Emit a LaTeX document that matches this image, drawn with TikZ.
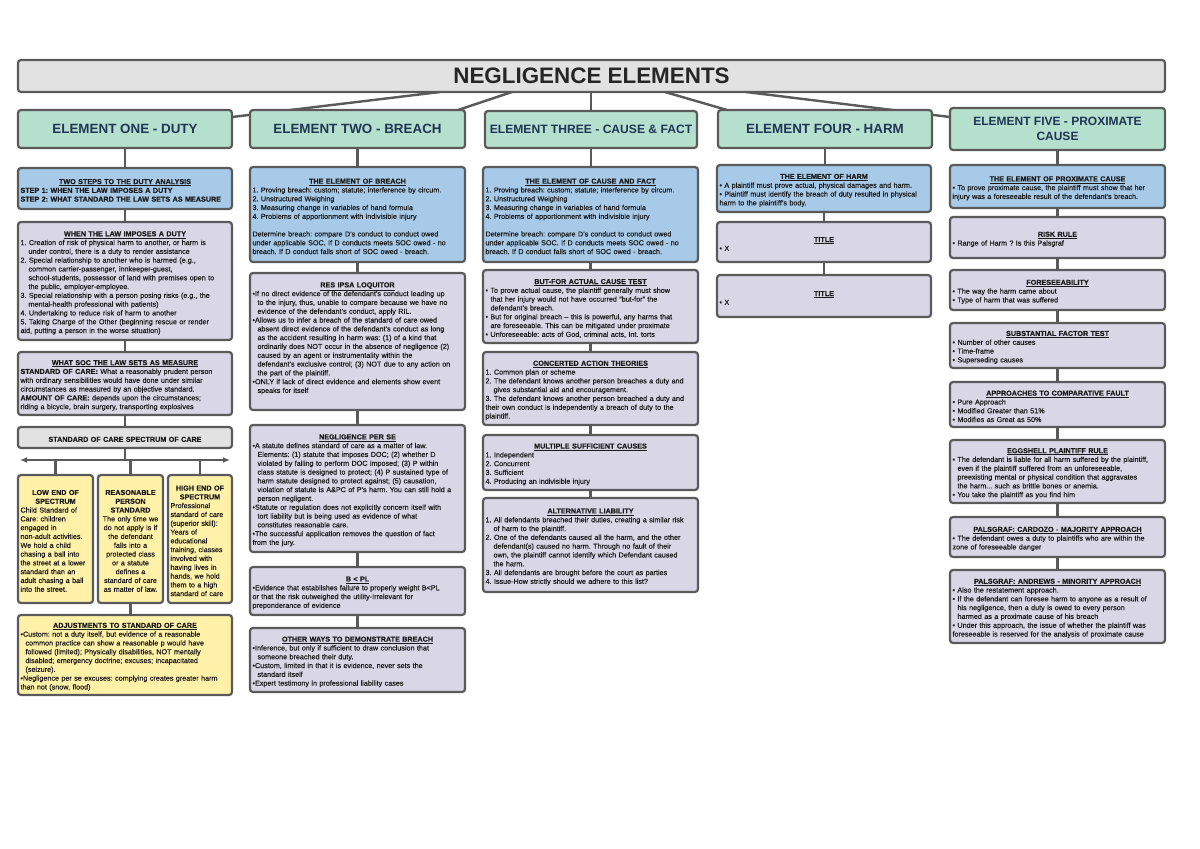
\documentclass[tikz,border=0pt]{standalone}
\usepackage{fontspec}
\setmainfont{Liberation Sans}
\newfontfamily\bodyf{Liberation Sans}[FakeBold=0.3]
\usetikzlibrary{backgrounds,calc,arrows.meta}
\definecolor{bord}{HTML}{5A5A5A}
\definecolor{bluef}{HTML}{A6CAE8}
\definecolor{lavf}{HTML}{D9D6E6}
\definecolor{greenf}{HTML}{B6E0CE}
\definecolor{yellf}{HTML}{FFF1A8}
\definecolor{grayf}{HTML}{E2E2E2}
\definecolor{hdrtxt}{HTML}{1F3555}
\definecolor{txt}{HTML}{1A1A1A}
\newcommand\bxfont{\bodyf\fontsize{7.2}{8.8}\selectfont\frenchspacing}
\newcommand\hd[1]{\par\centerline{\textbf{\underline{#1}}}}
\newcommand\ctr[1]{\par\centerline{\textbf{#1}}}
\newcommand\nitem{\par\noindent\hangindent=8pt\hangafter=1\relax\ignorespaces}
\newcommand\bitem{\par\noindent\hangindent=5pt\hangafter=1\relax\ignorespaces}
\newcommand\pp{\par\noindent\ignorespaces}
\tikzset{
  bx/.style={draw=bord, line width=2.2pt, rounded corners=3pt, inner xsep=2.5pt, inner ysep=2pt,
     align=left, font=\bxfont, text=txt, outer sep=0pt, anchor=north west},
  hdr/.style={draw=bord, line width=2.2pt, rounded corners=3pt, fill=greenf, align=center,
     text=hdrtxt, outer sep=0pt, anchor=north west, inner sep=1pt},
  conn/.style={draw=bord, line width=2.4pt},
}
\newcommand\bx[7]{\pgfmathsetmacro\tw{#5-5}\node[bx,fill=#2,minimum width=#5pt,minimum height=#6pt,text width=\tw pt] (#1) at (#3,#4) {#7};}
\begin{document}
\begin{tikzpicture}[x=1pt,y=-1pt]
\useasboundingbox (0,0) rectangle (1200,849);
% title
\node[hdr, fill=grayf, text=black!85, minimum width=1147pt, minimum height=32pt,
  font=\bfseries\fontsize{22.4}{24}\selectfont] (T) at (18,60) {NEGLIGENCE ELEMENTS};
% headers
\node[hdr, minimum width=214pt, minimum height=38pt, font=\bfseries\fontsize{13.4}{15}\selectfont] (E1) at (18,110) {ELEMENT ONE - DUTY};
\node[hdr, minimum width=215pt, minimum height=38pt, font=\bfseries\fontsize{13.4}{15}\selectfont] (E2) at (250,110) {ELEMENT TWO - BREACH};
\node[hdr, minimum width=212pt, minimum height=37pt, font=\bfseries\fontsize{12.1}{14}\selectfont] (E3) at (485,111) {ELEMENT THREE - CAUSE \& FACT};
\node[hdr, minimum width=214pt, minimum height=38pt, font=\bfseries\fontsize{13.4}{15}\selectfont] (E4) at (718,110) {ELEMENT FOUR - HARM};
\node[hdr, minimum width=215pt, minimum height=42pt, font=\bfseries\fontsize{12}{15}\selectfont] (E5) at (950,108) {ELEMENT FIVE - PROXIMATE\\CAUSE};

% ---------- column 1
\bx{A}{bluef}{18}{168}{214}{41}{\hd{TWO STEPS TO THE DUTY ANALYSIS}
\pp\textbf{STEP 1: WHEN THE LAW IMPOSES A DUTY}
\pp\textbf{STEP 2: WHAT STANDARD THE LAW SETS AS MEASURE}}
\bx{B}{lavf}{18}{222}{214}{118}{\hd{WHEN THE LAW IMPOSES A DUTY}
\nitem 1. Creation of risk of physical harm to another, or harm is\newline under control, there is a duty to render assistance
\nitem 2. Special relationship to another who is harmed (e.g.,\newline common carrier-passenger, innkeeper-guest,\newline school-students, possessor of land with premises open to\newline the public, employer-employee.
\nitem 3. Special relationship with a person posing risks (e.g., the\newline mental-health professional with patients)
\nitem 4. Undertaking to reduce risk of harm to another
\nitem 5. Taking Charge of the Other (beginning rescue or render\newline aid, putting a person in the worse situation)}
\bx{C}{lavf}{18}{352}{214}{63}{\hd{WHAT SOC THE LAW SETS AS MEASURE}
\pp\textbf{STANDARD OF CARE:} What a reasonably prudent person\newline with ordinary sensibilities would have done under similar\newline circumstances as measured by an objective standard.\newline \textbf{AMOUNT OF CARE:} depends upon the circumstances;\newline riding a bicycle, brain surgery, transporting explosives}
\bx{D}{grayf}{18}{427}{214}{21}{\ctr{STANDARD OF CARE SPECTRUM OF CARE}}
\bx{Y1}{yellf}{18}{475}{75}{128}{\ctr{LOW END OF}\ctr{SPECTRUM}
\pp Child Standard of\newline Care: children\newline engaged in\newline non-adult activities.\newline We hold a child\newline chasing a ball into\newline the street at a lower\newline standard than an\newline adult chasing a ball\newline into the street.}
\bx{Y2}{yellf}{98}{475}{65}{128}{\ctr{REASONABLE}\ctr{PERSON}\ctr{STANDARD}
\par{\centering The only time we\\do not apply is if\\the defendant\\falls into a\\protected class\\or a statute\\defines a\\standard of care\\as matter of law.\par}}
\bx{Y3}{yellf}{168}{475}{64}{128}{\ctr{HIGH END OF}\ctr{SPECTRUM}
\pp Professional\newline standard of care\newline (superior skill):\newline Years of\newline educational\newline training, classes\newline involved with\newline having lives in\newline hands, we hold\newline them to a high\newline standard of care}
\bx{ADJ}{yellf}{18}{615}{214}{80}{\hd{ADJUSTMENTS TO STANDARD OF CARE}
\bitem •Custom: not a duty itself, but evidence of a reasonable\newline common practice can show a reasonable p would have\newline followed (limited); Physically disabilities, NOT mentally\newline disabled; emergency doctrine; excuses; incapacitated\newline (seizure).
\bitem •Negligence per se excuses: complying creates greater harm\newline than not (snow, flood)}

% ---------- column 2
\bx{Ba}{bluef}{250}{167}{215}{95}{\hd{THE ELEMENT OF BREACH}
\nitem 1. Proving breach: custom; statute; interference by circum.
\nitem 2. Unstructured Weighing
\nitem 3. Measuring change in variables of hand formula
\nitem 4. Problems of apportionment with indivisible injury
\par\vspace{8.8pt}\pp Determine breach: compare D’s conduct to conduct owed\newline under applicable SOC. If D conducts meets SOC owed - no\newline breach. If D conduct falls short of SOC owed - breach.}
\bx{Bb}{lavf}{250}{273}{215}{137}{\hd{RES IPSA LOQUITOR}
\bitem •If no direct evidence of the defendant’s conduct leading up\newline to the injury, thus, unable to compare because we have no\newline evidence of the defendant’s conduct, apply RIL.
\bitem •Allows us to infer a breach of the standard of care owed\newline absent direct evidence of the defendant’s conduct as long\newline as the accident resulting in harm was: (1) of a kind that\newline ordinarily does NOT occur in the absence of negligence (2)\newline caused by an agent or instrumentality within the\newline defendant’s exclusive control; (3) NOT due to any action on\newline the part of the plaintiff.
\bitem •ONLY if lack of direct evidence and elements show event\newline speaks for itself\par\vspace{10pt}}
\bx{Bc}{lavf}{250}{425}{215}{127}{\hd{NEGLIGENCE PER SE}
\bitem •A statute defines standard of care as a matter of law.\newline Elements: (1) statute that imposes DOC; (2) whether D\newline violated by failing to perform DOC imposed; (3) P within\newline class statute is designed to protect; (4) P sustained type of\newline harm statute designed to protect against; (5) causation,\newline violation of statute is A\&PC of P’s harm. You can still hold a\newline person negligent.
\bitem •Statute or regulation does not explicitly concern itself with\newline tort liability but is being used as evidence of what\newline constitutes reasonable care.
\bitem •The successful application removes the question of fact\newline from the jury.}
\bx{Bd}{lavf}{250}{567}{215}{48}{\hd{B < PL}
\bitem •Evidence that establishes failure to properly weight B<PL\newline or that the risk outweighed the utility-Irrelevant for\newline preponderance of evidence}
\bx{Be}{lavf}{250}{628}{215}{64}{\hd{OTHER WAYS TO DEMONSTRATE BREACH}
\bitem •Inference, but only if sufficient to draw conclusion that\newline someone breached their duty.
\bitem •Custom, limited in that it is evidence, never sets the\newline standard itself
\bitem •Expert testimony in professional liability cases}

% ---------- column 3
\bx{Ca}{bluef}{483}{167}{215}{95}{\hd{THE ELEMENT OF CAUSE AND FACT}
\nitem 1. Proving breach: custom; statute; interference by circum.
\nitem 2. Unstructured Weighing
\nitem 3. Measuring change in variables of hand formula
\nitem 4. Problems of apportionment with indivisible injury
\par\vspace{8.8pt}\pp Determine breach: compare D’s conduct to conduct owed\newline under applicable SOC. If D conducts meets SOC owed - no\newline breach. If D conduct falls short of SOC owed - breach.}
\bx{Cb}{lavf}{483}{270}{215}{73}{\hd{BUT-FOR ACTUAL CAUSE TEST}
\bitem • To prove actual cause, the plaintiff generally must show\newline that her injury would not have occurred “but-for” the\newline defendant’s breach.
\bitem • But for original breach – this is powerful, any harms that\newline are foreseeable. This can be mitigated under proximate
\bitem • Unforeseeable: acts of God, criminal acts, Int. torts}
\bx{Cc}{lavf}{483}{352}{215}{73}{\hd{CONCERTED ACTION THEORIES}
\nitem 1. Common plan or scheme
\nitem 2. The defendant knows another person breaches a duty and\newline gives substantial aid and encouragement.
\nitem 3. The defendant knows another person breached a duty and\newline their own conduct is independently a breach of duty to the\newline plaintiff.}
\bx{Cd}{lavf}{483}{435}{215}{55}{\hd{MULTIPLE SUFFICIENT CAUSES}
\nitem 1. Independent
\nitem 2. Concurrent
\nitem 3. Sufficient
\nitem 4. Producing an indivisible injury}
\bx{Ce}{lavf}{483}{498}{215}{94}{\hd{ALTERNATIVE LIABILITY}
\nitem 1. All defendants breached their duties, creating a similar risk\newline of harm to the plaintiff.
\nitem 2. One of the defendants caused all the harm, and the other\newline defendant(s) caused no harm. Through no fault of their\newline own, the plaintiff cannot identify which Defendant caused\newline the harm.
\nitem 3. All defendants are brought before the court as parties
\nitem 4. Issue-How strictly should we adhere to this list?}

% ---------- column 4
\bx{Da}{bluef}{717}{165}{214}{47}{\hd{THE ELEMENT OF HARM}
\bitem • A plaintiff must prove actual, physical damages and harm.
\bitem • Plaintiff must identify the breach of duty resulted in physical\newline harm to the plaintiff’s body.}
\bx{Db}{lavf}{717}{222}{214}{40}{\hd{TITLE}
\bitem • X}
\bx{Dc}{lavf}{717}{275}{214}{42}{\hd{TITLE}
\bitem • X}

% ---------- column 5
\bx{Fa}{bluef}{950}{165}{215}{43}{\hd{THE ELEMENT OF PROXIMATE CAUSE}
\bitem • To prove proximate cause, the plaintiff must show that her\newline injury was a foreseeable result of the defendant’s breach.}
\bx{Fb}{lavf}{950}{217}{215}{41}{\hd{RISK RULE}
\bitem • Range of Harm ? Is this Palsgraf}
\bx{Fc}{lavf}{950}{270}{215}{40}{\hd{FORESEEABILITY}
\bitem • The way the harm came about
\bitem • Type of harm that was suffered}
\bx{Fd}{lavf}{950}{323}{215}{45}{\hd{SUBSTANTIAL FACTOR TEST}
\bitem • Number of other causes
\bitem • Time-frame
\bitem • Superseding causes}
\bx{Fe}{lavf}{950}{382}{215}{45}{\hd{APPROACHES TO COMPARATIVE FAULT}
\bitem • Pure Approach
\bitem • Modified Greater than 51\%
\bitem • Modifies as Great as 50\%}
\bx{Ff}{lavf}{950}{440}{215}{63}{\hd{EGGSHELL PLAINTIFF RULE}
\bitem • The defendant is liable for all harm suffered by the plaintiff,\newline even if the plaintiff suffered from an unforeseeable,\newline preexisting mental or physical condition that aggravates\newline the harm... such as brittle bones or anemia.
\bitem • You take the plaintiff as you find him}
\bx{Fg}{lavf}{950}{517}{215}{40}{\hd{PALSGRAF: CARDOZO - MAJORITY APPROACH}
\bitem • The defendant owes a duty to plaintiffs who are within the\newline zone of foreseeable danger}
\bx{Fh}{lavf}{950}{570}{215}{73}{\hd{PALSGRAF: ANDREWS - MINORITY APPROACH}
\bitem • Also the restatement approach.
\bitem • If the defendant can foresee harm to anyone as a result of\newline his negligence, then a duty is owed to every person\newline harmed as a proximate cause of his breach
\bitem • Under this approach, the issue of whether the plaintiff was\newline foreseeable is reserved for the analysis of proximate cause}

\coordinate (sl) at (20,460);
\coordinate (sr) at (230,460);

\begin{pgfonlayer}{background}
\fill[white] (0,0) rectangle (1200,849);
% title connectors
\draw[conn] ($(T.south west)+(422,0)$) -- ($(E1.north east)+(0,7)$);
\draw[conn] ($(T.south west)+(494,0)$) -- ($(E2.north east)+(-7,0)$);
\draw[conn] (T.south -| E3.north) -- (E3.north);
\draw[conn] ($(T.south west)+(647,0)$) -- ($(E4.north west)+(9,0)$);
\draw[conn] ($(T.south west)+(728,0)$) -- ($(E5.north west)+(0,9)$);
% column chains
\foreach \a/\b in {E1/A,A/B,B/C,C/D,E2/Ba,Ba/Bb,Bb/Bc,Bc/Bd,Bd/Be,E3/Ca,Ca/Cb,Cb/Cc,Cc/Cd,Cd/Ce,E4/Da,Da/Db,Db/Dc,E5/Fa,Fa/Fb,Fb/Fc,Fc/Fd,Fd/Fe,Fe/Ff,Ff/Fg,Fg/Fh}
  \draw[conn] (\a.south) -- (\a.south |- \b.north);
% spectrum
\draw[draw=bord, line width=2pt, {Latex[length=7pt,width=6pt]}-{Latex[length=7pt,width=6pt]}] (sl) -- (sr);
\draw[conn] (D.south) -- (D.south |- sl);
\foreach \y in {Y1,Y2,Y3} \draw[conn] (\y.north |- sl) -- (\y.north);
\draw[conn] (Y2.south) -- (Y2.south |- ADJ.north);
\end{pgfonlayer}
\end{tikzpicture}
\end{document}
